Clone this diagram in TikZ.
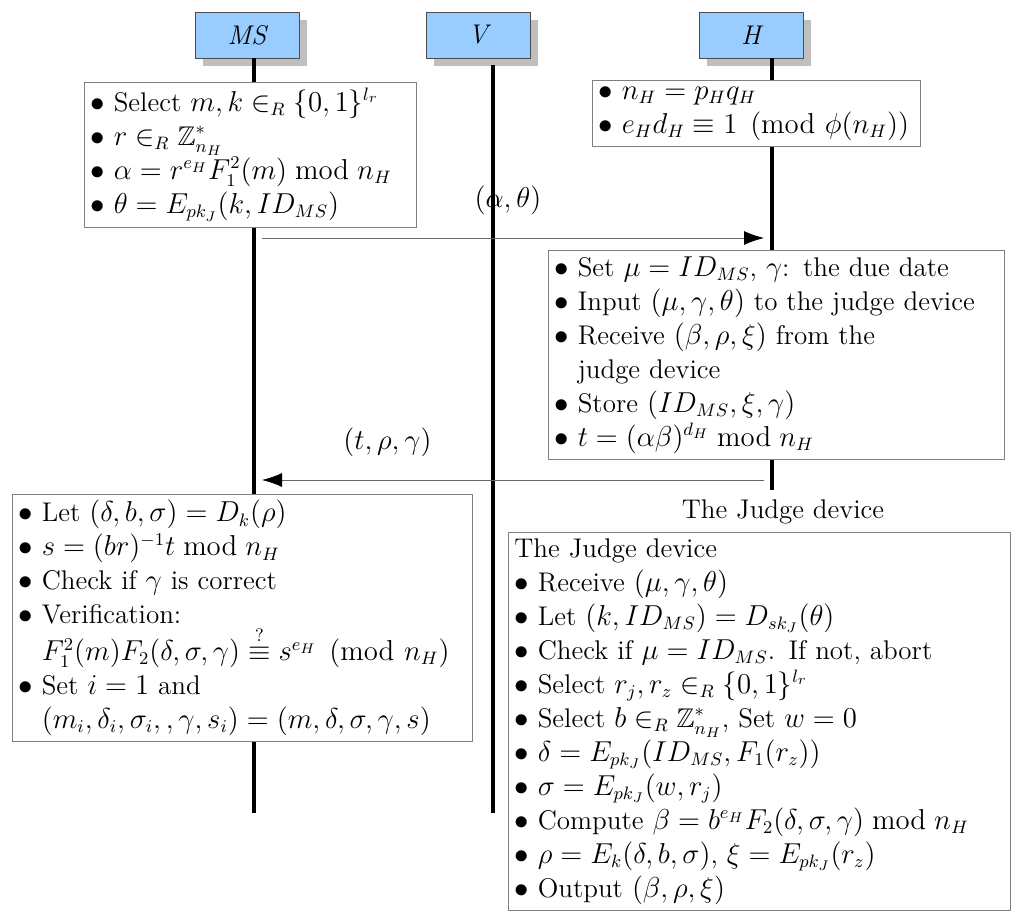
\documentclass[tikz,border=0pt]{standalone}
\usepackage{amsmath,amssymb}
\usetikzlibrary{shadows,arrows.meta}
\definecolor{hdrblue}{RGB}{153,204,255}
\begin{document}
\begin{tikzpicture}[x=0.5pt,y=-0.5pt,
  hdr/.style={draw=black!70,fill=hdrblue,minimum width=52pt,minimum height=23pt,inner sep=0pt,font=\fontsize{13.5}{17}\selectfont\itshape,
    drop shadow={shadow xshift=4pt,shadow yshift=-4pt,fill=black!25,opacity=1}},
  life/.style={line width=2pt},
  box/.style={draw=black!50,fill=white,anchor=north west,align=left,inner sep=3pt,font=\fontsize{13.5}{17}\selectfont},
  msg/.style={draw=black!60,-{Latex[length=10pt,width=7pt,color=black]}},
  lbl/.style={font=\fontsize{13.5}{17}\selectfont}]
\useasboundingbox (0,0) rectangle (1024,914);
\node[hdr] (ms) at (247,35) {MS};
\node[hdr] (v) at (478,35) {V};
\node[hdr] (h) at (751,35) {H};
\coordinate (msb) at (254,813);
\coordinate (vb) at (493,813);
\coordinate (hb) at (772,490);
\coordinate (mst) at (254,58);
\coordinate (vt) at (493,65);
\coordinate (ht) at (772,58);
\draw[life] (mst) -- (msb);
\draw[life] (vt) -- (vb);
\draw[life] (ht) -- (hb);
\node[box,text width=160pt] (b1) at (84,82) {%
$\bullet$ Select $m,k\in_R\{0,1\}^{l_r}$\\
$\bullet$ $r\in_R\mathbb{Z}^*_{n_H}$\\
$\bullet$ $\alpha=r^{e_H}F_1^2(m)\bmod n_H$\\
$\bullet$ $\theta=E_{pk_J}(k,ID_{MS})$};
\node[box,text width=158pt] (b2) at (592,80) {%
$\bullet$ $n_H=p_Hq_H$\\
$\bullet$ $e_Hd_H\equiv1\pmod{\phi(n_H)}$};
\coordinate (a1s) at (262,238);
\coordinate (a1e) at (764,238);
\draw[msg] (a1s) -- node[lbl,above=8pt,pos=0.49] (l1) {$(\alpha,\theta)$} (a1e);
\node[box,text width=222pt] (b3) at (548,250) {%
$\bullet$ Set $\mu=ID_{MS}$, $\gamma$: the due date\\
$\bullet$ Input $(\mu,\gamma,\theta)$ to the judge device\\
$\bullet$ Receive $(\beta,\rho,\xi)$ from the\\
\phantom{$\bullet$} judge device\\
$\bullet$ Store $(ID_{MS},\xi,\gamma)$\\
$\bullet$ $t=(\alpha\beta)^{d_H}\bmod n_H$};
\coordinate (a2s) at (764,480);
\coordinate (a2e) at (262,480);
\draw[msg] (a2s) -- node[lbl,above=8pt,pos=0.75] (l2) {$(t,\rho,\gamma)$} (a2e);
\node[box,text width=224pt] (b4) at (12,494) {%
$\bullet$ Let $(\delta,b,\sigma)=D_k(\rho)$\\
$\bullet$ $s=(br)^{-1}t\bmod n_H$\\
$\bullet$ Check if $\gamma$ is correct\\
$\bullet$ Verification:\\
\phantom{$\bullet$} $F_1^2(m)F_2(\delta,\sigma,\gamma)\overset{?}{\equiv}s^{e_H}\pmod{n_H}$\\
$\bullet$ Set $i=1$ and\\
\phantom{$\bullet$} $(m_i,\delta_i,\sigma_i,,\gamma,s_i)=(m,\delta,\sigma,\gamma,s)$};
\node[lbl] (jl) at (783,512) {The Judge device};
\node[box,text width=245pt] (b5) at (508,532) {%
The Judge device\\
$\bullet$ Receive $(\mu,\gamma,\theta)$\\
$\bullet$ Let $(k,ID_{MS})=D_{sk_J}(\theta)$\\
$\bullet$ Check if $\mu=ID_{MS}$. If not, abort\\
$\bullet$ Select $r_j,r_z\in_R\{0,1\}^{l_r}$\\
$\bullet$ Select $b\in_R\mathbb{Z}^*_{n_H}$, Set $w=0$\\
$\bullet$ $\delta=E_{pk_J}(ID_{MS},F_1(r_z))$\\
$\bullet$ $\sigma=E_{pk_J}(w,r_j)$\\
$\bullet$ Compute $\beta=b^{e_H}F_2(\delta,\sigma,\gamma)\bmod n_H$\\
$\bullet$ $\rho=E_k(\delta,b,\sigma)$, $\xi=E_{pk_J}(r_z)$\\
$\bullet$ Output $(\beta,\rho,\xi)$};
\end{tikzpicture}
\end{document}
